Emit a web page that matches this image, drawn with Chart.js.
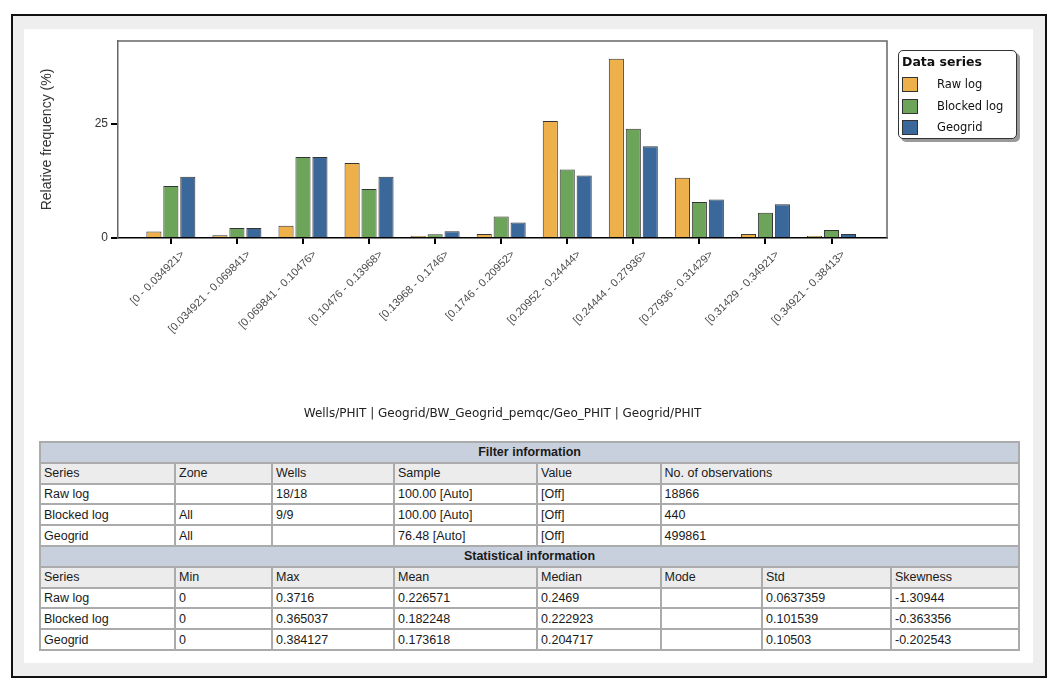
<!DOCTYPE html>
<html>
<head>
<meta charset="utf-8">
<script src="https://cdn.jsdelivr.net/npm/chart.js@4.4.1/dist/chart.umd.min.js"></script>
<style>
  body { margin: 0; background: #fff; width: 1058px; height: 694px; position: relative; overflow: hidden; }
  #frame { position: absolute; left: 11px; top: 14px; width: 1036px; height: 664px; box-sizing: border-box;
           border: 2px solid #111; background: #eeeeee; }
  #panel { position: absolute; left: 24px; top: 29px; width: 1009px; height: 634px; background: #fff; }
  #chart { position: absolute; left: 24px; top: 29px; }
  #legend { position: absolute; left: 898px; top: 50px; width: 119px; height: 89px; box-sizing: border-box;
            border: 1px solid #333; border-radius: 5px; background: #fff; box-shadow: 3px 3px 0 #9a9a9a;
            font-family: "DejaVu Sans", sans-serif; color: #111; }
  #legend .title { position: absolute; left: 3px; top: 3px; font-weight: bold; font-size: 12.5px; }
  #legend .item { position: absolute; left: 3px; height: 15px; font-size: 11.5px; line-height: 15px; }
  #legend .sw { position: absolute; left: 0; top: 0; width: 14px; height: 13px; border: 1px solid #333; }
  #legend .lbl { position: absolute; left: 35px; top: 0; white-space: nowrap; }
  #info { position: absolute; left: 39px; top: 441px; width: 979px; border-collapse: collapse; table-layout: fixed;
          font-family: "Liberation Sans", Arial, sans-serif; font-size: 12.5px; color: #1a1a1a; }
  #info tr { height: 20.8px; }
  #info td { border: 2px solid #ababab; padding: 0 3px; white-space: nowrap; overflow: hidden; }
  #info tr.sec td { background: #c9d0dd; font-weight: bold; text-align: center; }
  #info tr.head td { background: #ececec; }
</style>
</head>
<body>
<div id="frame"></div>
<div id="panel"></div>
<canvas id="chart" width="1009" height="392"></canvas>
<div id="legend"><div class="title">Data series</div></div>
<table id="info"></table>
<script>
// histogram bins (porosity classes)
const categories = [
  '[0 - 0.034921>', '[0.034921 - 0.069841>', '[0.069841 - 0.10476>', '[0.10476 - 0.13968>',
  '[0.13968 - 0.1746>', '[0.1746 - 0.20952>', '[0.20952 - 0.24444>', '[0.24444 - 0.27936>',
  '[0.27936 - 0.31429>', '[0.31429 - 0.34921>', '[0.34921 - 0.38413>'
];

// relative frequency (%) per bin
const rawLog     = [1.4, 0.6, 2.7, 16.4, 0.45, 0.9, 25.6, 39.2, 13.2, 0.9, 0.45];
const blockedLog = [11.4, 2.2, 17.7, 10.7, 0.8, 4.7, 15.0, 23.9, 7.9, 5.5, 1.75];
const geogrid    = [13.4, 2.2, 17.7, 13.4, 1.5, 3.4, 13.7, 20.1, 8.4, 7.4, 0.9];

const seriesNames  = ['Raw log', 'Blocked log', 'Geogrid'];
const seriesColors = ['#edb04b', '#6ca55a', '#3b689b'];
const yTicks = [0, 25];
const xTitle = 'Wells/PHIT | Geogrid/BW_Geogrid_pemqc/Geo_PHIT | Geogrid/PHIT';

// table contents
const filterHead = ['Series', 'Zone', 'Wells', 'Sample', 'Value', 'No. of observations'];
const filterRows = [
  ['Raw log', '', '18/18', '100.00 [Auto]', '[Off]', '18866'],
  ['Blocked log', 'All', '9/9', '100.00 [Auto]', '[Off]', '440'],
  ['Geogrid', 'All', '', '76.48 [Auto]', '[Off]', '499861']
];
const statHead = ['Series', 'Min', 'Max', 'Mean', 'Median', 'Mode', 'Std', 'Skewness'];
const statRows = [
  ['Raw log', '0', '0.3716', '0.226571', '0.2469', '', '0.0637359', '-1.30944'],
  ['Blocked log', '0', '0.365037', '0.182248', '0.222923', '', '0.101539', '-0.363356'],
  ['Geogrid', '0', '0.384127', '0.173618', '0.204717', '', '0.10503', '-0.202543']
];

const seriesValues = [rawLog, blockedLog, geogrid];

const datasets = seriesValues.map((vals, s) => ({
  label: seriesNames[s],
  data: vals.map((v, i) => ({ x: i, y: v })),
  backgroundColor: seriesColors[s],
  borderColor: '#333',
  borderWidth: 1,
  borderSkipped: 'bottom',
  categoryPercentage: 0.77,
  barPercentage: 0.89
}));

// frame around the plot (top and right sides)
const plotFrame = {
  id: 'plotFrame',
  afterDraw(chart) {
    const { ctx, chartArea: a } = chart;
    ctx.save();
    ctx.strokeStyle = '#666';
    ctx.lineWidth = 1.5;
    ctx.beginPath();
    ctx.moveTo(a.left, a.top);
    ctx.lineTo(a.right, a.top);
    ctx.lineTo(a.right, a.bottom);
    ctx.stroke();
    ctx.restore();
  }
};

new Chart(document.getElementById('chart'), {
  type: 'bar',
  data: { datasets },
  plugins: [plotFrame],
  options: {
    responsive: false,
    animation: false,
    layout: { padding: { left: 0, top: 12, right: 146, bottom: 0 } },
    plugins: { legend: { display: false }, tooltip: { enabled: false } },
    scales: {
      x: {
        type: 'linear',
        min: -0.8,
        max: 10.84,
        offset: false,
        afterBuildTicks: (scale) => { scale.ticks = categories.map((_, i) => ({ value: i })); },
        afterFit: (scale) => { scale.height = 183; },
        grid: { drawOnChartArea: false, offset: false, tickLength: 6, color: '#000', lineWidth: 2 },
        border: { color: '#000', width: 1.5 },
        ticks: {
          autoSkip: false,
          minRotation: 45,
          maxRotation: 45,
          padding: 4,
          labelOffset: 12,
          color: '#4a4a4a',
          font: { family: 'Liberation Sans', size: 11 },
          callback: (v) => categories[v] ?? ''
        },
        title: {
          display: true,
          text: xTitle,
          color: '#222',
          padding: 0,
          font: { family: 'DejaVu Sans', size: 12 }
        }
      },
      y: {
        min: 0,
        max: 43.1,
        afterBuildTicks: (scale) => { scale.ticks = yTicks.map(v => ({ value: v })); },
        afterFit: (scale) => { scale.width = 94; },
        grid: { drawOnChartArea: false, tickLength: 7, color: '#000', lineWidth: 2 },
        border: { color: '#666', width: 1.5 },
        ticks: { padding: 3, color: '#333', font: { family: 'Liberation Sans', size: 12 } },
        title: {
          display: true,
          text: 'Relative frequency (%)',
          color: '#333',
          padding: { top: 15, bottom: 0 },
          font: { family: 'Liberation Sans', size: 14 }
        }
      }
    }
  }
});

// legend
const legend = document.getElementById('legend');
seriesNames.forEach((name, s) => {
  const item = document.createElement('div');
  item.className = 'item';
  item.style.top = (26 + s * 21.5) + 'px';
  item.innerHTML = '<div class="sw" style="background:' + seriesColors[s] + '"></div><div class="lbl">' + name + '</div>';
  legend.appendChild(item);
});

// info tables
const colWidths = [135, 97, 122, 143, 123.5, 101.5, 129, 128];
const table = document.getElementById('info');
let html = '<colgroup>' + colWidths.map(w => '<col style="width:' + w + 'px">').join('') + '</colgroup>';
const row = (cells, cls, lastSpan) => '<tr class="' + cls + '">' + cells.map((c, i) =>
  '<td' + (lastSpan && i === cells.length - 1 ? ' colspan="' + lastSpan + '"' : '') + '>' + c + '</td>').join('') + '</tr>';
html += '<tr class="sec"><td colspan="8">Filter information</td></tr>';
html += row(filterHead, 'head', 3);
filterRows.forEach(r => { html += row(r, 'data', 3); });
html += '<tr class="sec"><td colspan="8">Statistical information</td></tr>';
html += row(statHead, 'head');
statRows.forEach(r => { html += row(r, 'data'); });
table.innerHTML = html;
</script>
</body>
</html>
